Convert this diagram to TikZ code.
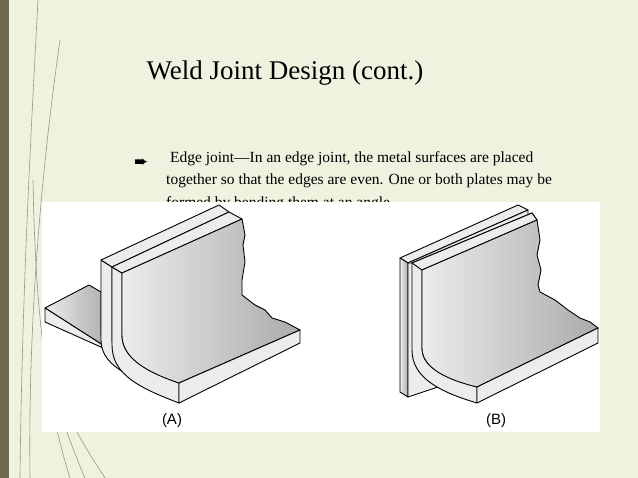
\documentclass[tikz,border=0pt]{standalone}
\usepackage{fontspec}
\setmainfont{Liberation Serif}
\newfontfamily\symfont{DejaVu Sans}
\setsansfont{Liberation Sans}
\usetikzlibrary{positioning}
\definecolor{slidebg}{HTML}{EEF2DF}
\definecolor{band}{HTML}{6E6B4F}
\definecolor{steel}{HTML}{C9C9C9}
\definecolor{steellt}{HTML}{ECECEC}
\tikzset{
  plate/.style = {draw=black, line width=0.9pt, line join=round, fill=steel},
  face/.style  = {plate, left color=steellt, right color=steel!85!black},
  edge/.style  = {plate, fill=steellt},
  deco/.style  = {draw=band!70, line width=0.6pt},
  label/.style = {font=\sffamily\fontsize{15}{18}\selectfont}
}
\begin{document}
\begin{tikzpicture}[x=1pt,y=-1pt]
\useasboundingbox[fill=slidebg] (0,0) rectangle (638,478);
% left border decoration
\fill[band] (0,0) rectangle (9,478);
\draw[deco] (20,478) .. controls (22,300) and (30,150) .. (38,0);
\draw[deco] (30,478) .. controls (28,330) and (40,180) .. (60,40);
\draw[deco] (70,478) .. controls (45,400) and (35,300) .. (33,180);
\draw[deco] (85,478) .. controls (60,420) and (50,380) .. (46,330);
\draw[deco] (105,478) .. controls (80,440) and (70,420) .. (62,400);

% title and bullet
\node[anchor=base west, font=\fontsize{27}{32}\selectfont] (title) at (143,80) {Weld Joint Design (cont.)};
\node[anchor=base west, font=\symfont\fontsize{17}{19}\selectfont, inner sep=0pt] (bul) at (134,168) {➨};
\node[anchor=north west, align=left, font=\fontsize{15.5}{22.5}\selectfont, inner sep=0pt] (txt) at (166,151)
  {\ Edge joint---In an edge joint, the metal surfaces are placed\\
   together so that the edges are even. One or both plates may be\\
   formed by bending them at an angle.};

% picture panel
\fill[white] (42,202) rectangle (600,432);

% joint (A)
\draw[face] (45,308) -- (89,285) -- (101,292) -- (101,330) .. controls (101,342) and (104,346) .. (109,349) -- cycle;
\draw[edge] (45,308) -- (109,349) -- (112,352) -- (45,322) -- cycle;
\draw[edge] (101,260) -- (112,267) -- (112,340) .. controls (112,360) and (150,370) .. (179,383) -- (179,395)
  .. controls (140,380) and (101,370) .. (101,340) -- cycle;
\draw[edge] (112,267) -- (122,273) -- (122,335) .. controls (122,360) and (150,372) .. (179,383) -- (179,403)
  .. controls (140,388) and (112,375) .. (112,345) -- cycle;
\draw[edge] (101,260) -- (219,205) -- (229,212) -- (112,267) -- cycle;
\draw[edge] (112,267) -- (229,212) -- (242,219) -- (122,273) -- cycle;
\draw[face] (122,273) -- (242,219) -- (245,235) -- (243,245) -- (245,262) -- (242,280) -- (242,295)
  -- (255,305) -- (265,310) -- (272,318) -- (285,322) -- (300,330) -- (179,383)
  .. controls (140,370) and (122,355) .. (122,335) -- cycle;
\draw[edge] (179,383) -- (300,330) -- (300,343) -- (179,403) -- cycle;
\node[label] (capA) at (172,421) {(A)};

% joint (B)
\draw[edge] (400,258) -- (518,205) -- (528,210) -- (408,263) -- cycle;
\draw[face] (400,258) -- (408,263) -- (408,397) -- (400,392) -- cycle;
\draw[edge] (408,263) -- (528,210) -- (528,222) -- (450,383) -- (408,397) -- cycle;
\draw[edge] (408,263) -- (412,263) -- (532,213) -- (537,220) -- (422,270) -- (422,348)
  .. controls (422,370) and (450,378) .. (477,387) -- (477,403)
  .. controls (440,392) and (412,378) .. (412,350) -- (412,263);
\draw[edge] (412,263) -- (532,213) -- (537,220) -- (422,270) -- cycle;
\draw[face] (422,270) -- (537,220) -- (540,240) -- (537,255) -- (541,270) -- (538,285) -- (540,292)
  -- (555,300) -- (568,310) -- (580,318) -- (590,322) -- (598,328) -- (477,387)
  .. controls (440,378) and (422,365) .. (422,348) -- cycle;
\draw[edge] (477,387) -- (598,328) -- (598,343) -- (477,403) -- cycle;
\node[label] (capB) at (496,421) {(B)};
\end{tikzpicture}
\end{document}
